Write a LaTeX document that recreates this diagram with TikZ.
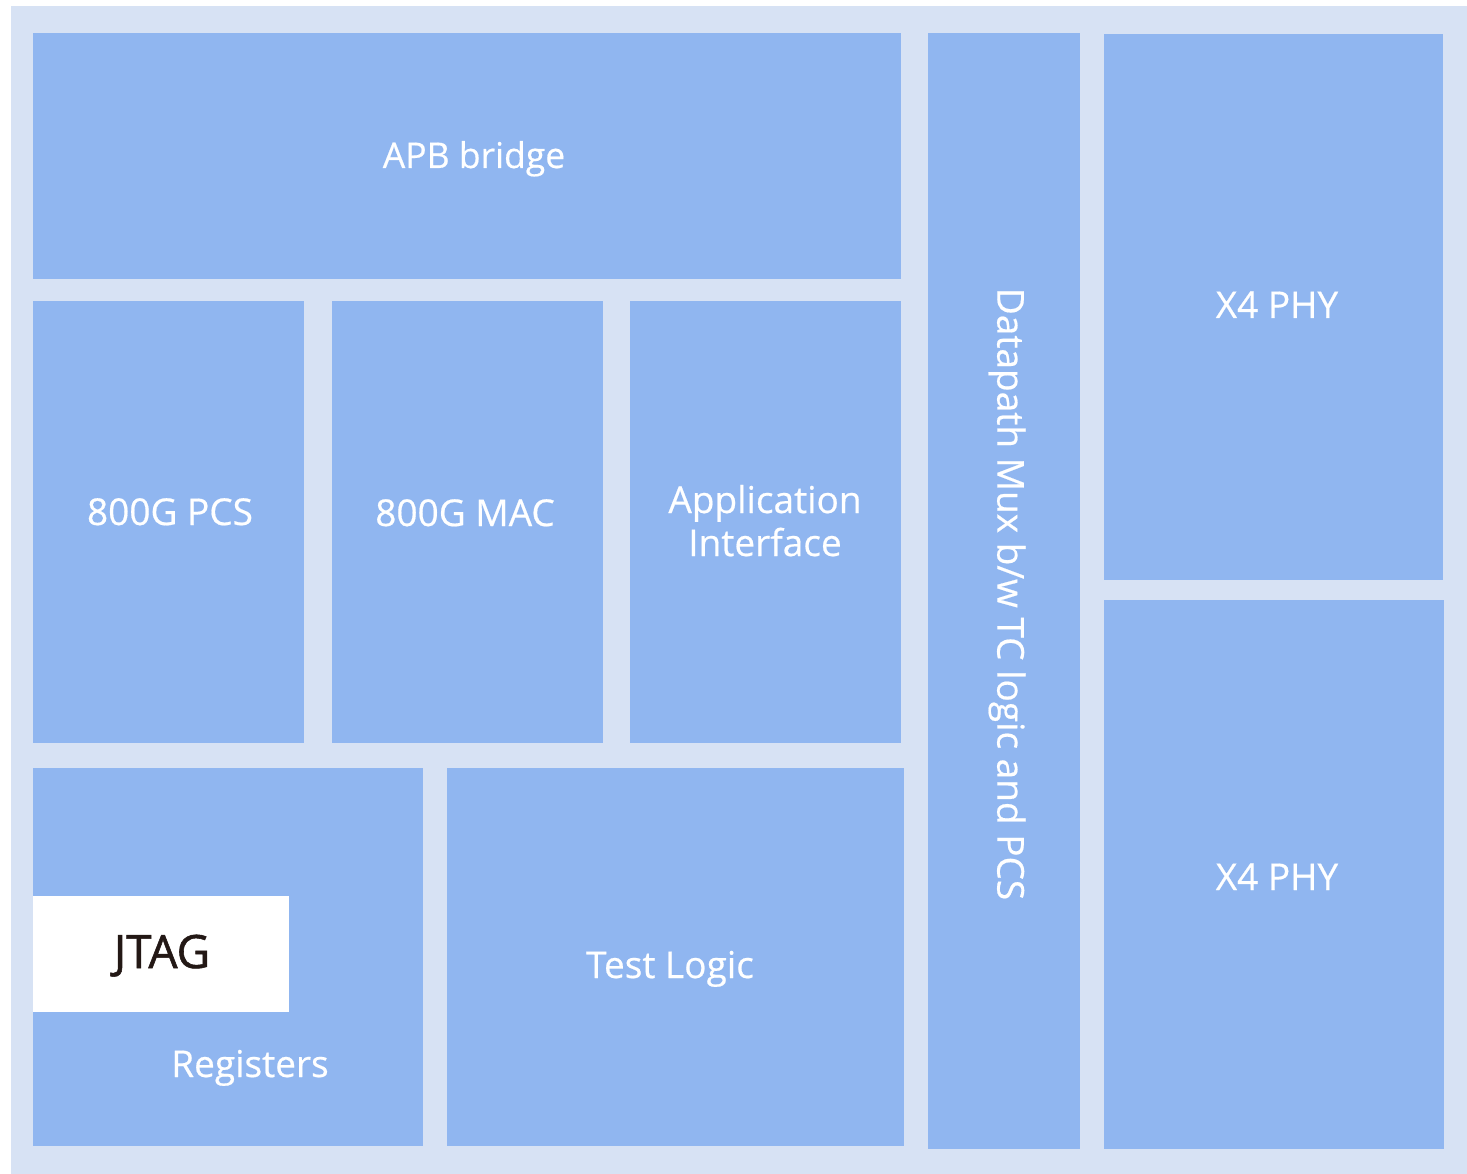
\documentclass[tikz,border=0pt]{standalone}
\usepackage{fontspec}
\setmainfont{Open Sans}
\newfontfamily\lblfont{Open Sans}[BoldFont={Open Sans},BoldFeatures={FakeBold=0.5}]
\newfontfamily\jtagfont{Open Sans}[BoldFont={Open Sans},BoldFeatures={FakeBold=1.2}]
\definecolor{bgc}{HTML}{D7E2F4}
\definecolor{boxc}{HTML}{90B6F0}
\definecolor{txtd}{HTML}{231815}
\begin{document}
\begin{tikzpicture}[x=1pt,y=-1pt,
  blk/.style={fill=boxc,draw=none},
  lbl/.style={text=white,font=\lblfont\bfseries\fontsize{37}{44}\selectfont,anchor=base,inner sep=0pt}]
\useasboundingbox (0,0) rectangle (1467,1174);
\fill[bgc] (11,6) rectangle (1467,1174);
% blocks
\path[blk] (33,33) rectangle (901,279);
\path[blk] (33,301) rectangle (304,743);
\path[blk] (332,301) rectangle (603,743);
\path[blk] (630,301) rectangle (901,743);
\path[blk] (33,768) rectangle (423,1146);
\fill[white] (33,896) rectangle (289,1012);
\path[blk] (447,768) rectangle (904,1146);
\path[blk] (928,33) rectangle (1080,1149);
\path[blk] (1104,34) rectangle (1443,580);
\path[blk] (1104,600) rectangle (1444,1149);
% labels
\node[lbl,font=\lblfont\bfseries\fontsize{35.5}{44}\selectfont] (apb) at (474,168) {APB bridge};
\node[lbl] (pcs) at (170,525) {800G PCS};
\node[lbl] (mac) at (465,526) {800G MAC};
\node[lbl] (app1) at (765,513) {Application};
\node[lbl] (app2) at (765,556) {Interface};
\node[lbl] (phy1) at (1277,318) {X4 PHY};
\node[lbl] (phy2) at (1277,890) {X4 PHY};
\node[lbl] (tl) at (670,978) {Test Logic};
\node[lbl] (reg) at (250,1077) {Registers};
\node[lbl,text=txtd,font=\jtagfont\bfseries\fontsize{46}{52}\selectfont] (jtag) at (162,968) {JTAG};
\node[text=white,font=\lblfont\bfseries\fontsize{37}{44}\selectfont,inner sep=0pt,rotate=-90] (dp) at (1007,594) {Datapath Mux b/w TC logic and PCS};
\end{tikzpicture}
\end{document}
